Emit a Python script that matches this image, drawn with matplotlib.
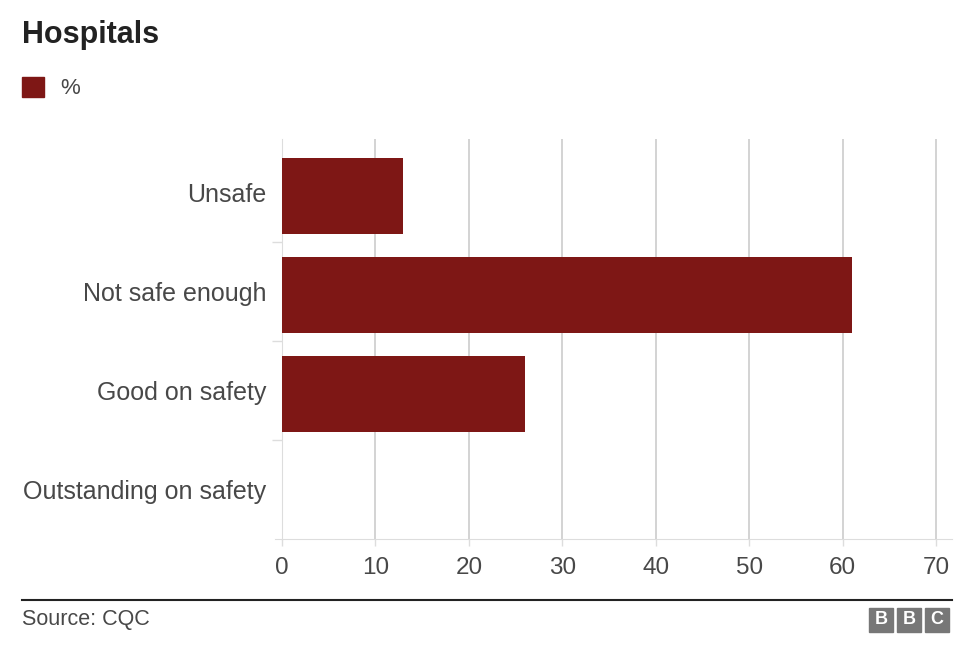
import matplotlib
matplotlib.use("Agg")
import matplotlib.pyplot as plt
import matplotlib.transforms as mtransforms
from matplotlib.patches import Rectangle
from matplotlib.lines import Line2D

categories = ["Unsafe", "Not safe enough", "Good on safety", "Outstanding on safety"]
values = [13, 61, 26, 0]
xticks = [0, 10, 20, 30, 40, 50, 60, 70]

BAR = "#7E1715"
GRID = "#cccccc"
TXT = "#484848"

plt.rcParams['font.family'] = ['Liberation Sans', 'DejaVu Sans']

W, H = 976, 645
fig = plt.figure(figsize=(W/100, H/100), dpi=100)

def fx(px): return px / W
def fy(py): return 1 - py / H

ax = fig.add_axes([fx(282), fy(539), fx(952) - fx(282), fy(139) - fy(539)])
ypos = list(range(len(categories)))
ax.barh(ypos, values, height=0.77, color=BAR, zorder=3)
ax.set_xlim(0, 71.7)
ax.set_ylim(3.47, -0.577)
ax.set_xticks(xticks)
ax.set_xticklabels([str(t) for t in xticks], fontsize=17.5, color=TXT)
ax.set_yticks(ypos)
ax.set_yticklabels(categories, fontsize=18, color=TXT)
ax.tick_params(axis='y', which='major', length=0, pad=11.5)
shift = mtransforms.ScaledTranslation(0, 3.5/100, fig.dpi_scale_trans)
for lbl in ax.get_yticklabels():
    lbl.set_transform(lbl.get_transform() + shift)
ax.set_yticks([i + 0.47 for i in range(len(categories) - 1)], minor=True)
ax.tick_params(axis='y', which='minor', length=7, color="#dddddd", width=1)
ax.tick_params(axis='x', which='major', length=5, color="#dddddd", width=1, pad=8)
for t in xticks[1:]:
    ax.axvline(t, color=GRID, lw=1.2, zorder=1)
for s in ['top', 'right']:
    ax.spines[s].set_visible(False)
ax.spines['left'].set_color("#dddddd")
ax.spines['bottom'].set_color("#dddddd")
ax.spines['bottom'].set_bounds(-0.75, 71.7)

# Title and legend
fig.text(fx(22), fy(35), "Hospitals", fontsize=22, fontweight='bold', color="#222222", va='center', ha='left')
fig.patches.append(Rectangle((fx(22), fy(97)), fx(22), fy(77) - fy(97), transform=fig.transFigure, color=BAR))
fig.text(fx(60), fy(88), "%", fontsize=16, color=TXT, va='center', ha='left')

# Footer
fig.lines.append(Line2D([fx(22), fx(952)], [fy(600), fy(600)], transform=fig.transFigure, color="#222222", lw=1.5))
fig.text(fx(22), fy(619), "Source: CQC", fontsize=15.5, color=TXT, va='center', ha='left')
for i, letter in enumerate("BBC"):
    x0 = 869 + i * 28
    fig.patches.append(Rectangle((fx(x0), fy(632)), fx(24), fy(608) - fy(632), transform=fig.transFigure, color="#777777"))
    fig.text(fx(x0 + 12), fy(620), letter, fontsize=13, fontweight='bold', color="white", ha='center', va='center')

fig.savefig("out.png", dpi=100, facecolor="white")
